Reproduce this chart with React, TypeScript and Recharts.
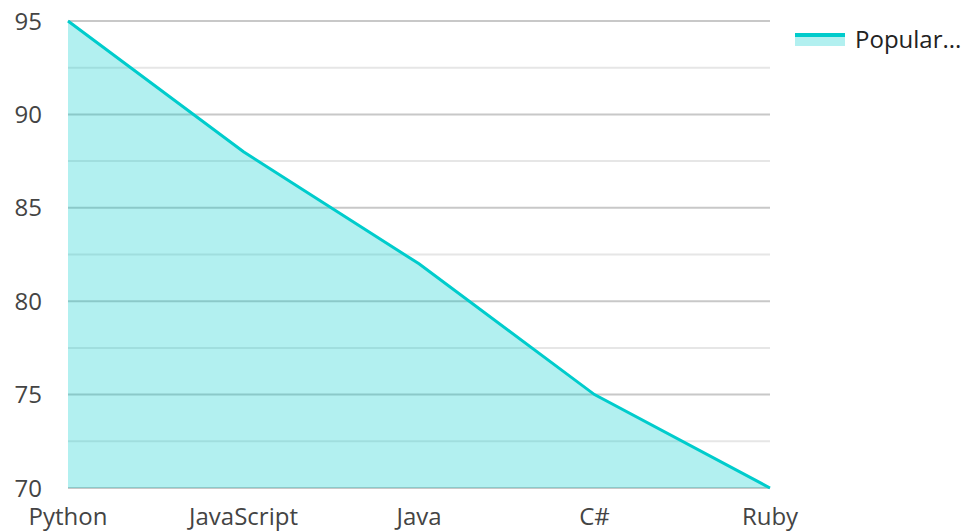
import React from "react";
import { AreaChart, Area, XAxis, YAxis, CartesianGrid, Legend } from "recharts";

const languages = ["Python", "JavaScript", "Java", "C#", "Ruby"];
const popularity = [95, 88, 82, 75, 70];
const yTicks = [70, 75, 80, 85, 90, 95];
const minorTicks = [72.5, 77.5, 82.5, 87.5, 92.5];
const seriesName = "Popular...";

const data = languages.map((name, i) => ({ name, value: popularity[i] }));

const LINE = "#00cccc";
const FONT = "'Open Sans', sans-serif";

// legend swatch: line on top of a light fill block
const renderLegend = () => (
  <div style={{ display: "flex", alignItems: "center", fontFamily: FONT }}>
    <svg width={50} height={16} style={{ marginRight: 10 }}>
      <rect x={0} y={4} width={50} height={11} fill={LINE} fillOpacity={0.3} />
      <rect x={0} y={2} width={50} height={4} fill={LINE} />
    </svg>
    <span style={{ fontSize: 24, color: "#222" }}>{seriesName}</span>
  </div>
);

const App: React.FC = () => {
  return (
    <div style={{ position: "fixed", top: 0, left: 0, width: 962, height: 531, background: "#fff" }}>
      <AreaChart
        width={962}
        height={531}
        data={data}
        margin={{ top: 21, right: 22, bottom: 0, left: 0 }}
      >
        <CartesianGrid
          vertical={false}
          stroke="#e6e6e6"
          strokeWidth={2}
          horizontalValues={minorTicks}
        />
        <CartesianGrid vertical={false} stroke="#c8c8c8" strokeWidth={2} />
        <XAxis
          dataKey="name"
          axisLine={false}
          tickLine={false}
          tickSize={0}
          tickMargin={20}
          height={43}
          interval={0}
          tick={{ fill: "#444", fontSize: 24, fontFamily: FONT }}
        />
        <YAxis
          domain={[70, 95]}
          ticks={yTicks}
          axisLine={false}
          tickLine={false}
          tickSize={0}
          tickMargin={26}
          width={68}
          tick={{ fill: "#444", fontSize: 24, fontFamily: FONT }}
        />
        <Area
          type="linear"
          dataKey="value"
          name={seriesName}
          stroke={LINE}
          strokeWidth={3}
          fill={LINE}
          fillOpacity={0.3}
          isAnimationActive={false}
          dot={false}
          activeDot={false}
        />
        <Legend
          content={renderLegend}
          layout="vertical"
          align="right"
          verticalAlign="top"
          wrapperStyle={{ position: "absolute", top: 22, left: 795, width: 170 }}
        />
      </AreaChart>
    </div>
  );
};

export default App;
